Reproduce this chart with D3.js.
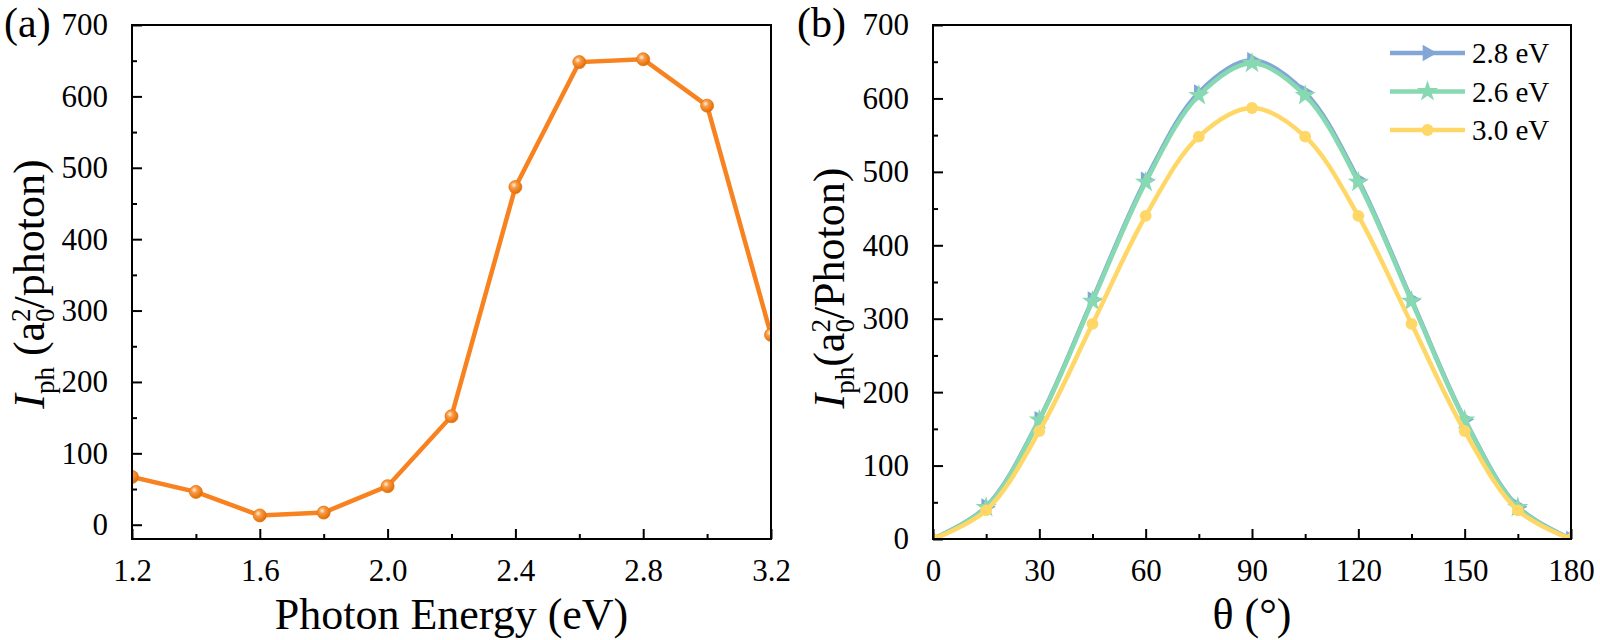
<!DOCTYPE html>
<html>
<head>
<meta charset="utf-8">
<script src="https://cdn.jsdelivr.net/npm/d3@7"></script>
<style>
html,body{margin:0;padding:0;background:#fff;}
svg{display:block;font-family:"Liberation Serif","Times New Roman",serif;}
</style>
</head>
<body>
<svg id="chart" width="1600" height="640"></svg>
<script>
// ---------- data ----------
const energies = [1.2, 1.4, 1.6, 1.8, 2.0, 2.2, 2.4, 2.6, 2.8, 3.0, 3.2];
const iphEnergy = [67, 46, 13, 17, 54, 152, 473, 648, 652, 587, 266];

const angles = [0, 15, 30, 45, 60, 75, 90, 105, 120, 135, 150, 165, 180];
const iph28 = [0, 44, 163, 326, 489, 608, 652, 608, 489, 326, 163, 44, 0];
const iph26 = [0, 43, 162, 324, 486, 604, 648, 604, 486, 324, 162, 43, 0];
const iph30 = [0, 39, 147, 293, 440, 548, 587, 548, 440, 293, 147, 39, 0];
const seriesNames = ["2.8 eV", "2.6 eV", "3.0 eV"];

const xTicksA = [1.2, 1.6, 2.0, 2.4, 2.8, 3.2];
const xMinorA = [1.4, 1.8, 2.2, 2.6, 3.0];
const yTicks = [0, 100, 200, 300, 400, 500, 600, 700];
const yMinor = [50, 150, 250, 350, 450, 550, 650];
const xTicksB = [0, 30, 60, 90, 120, 150, 180];
const xMinorB = [15, 45, 75, 105, 135, 165];

// ---------- layout ----------
const svg = d3.select("#chart");
const topY = 25, bottomY = 539;
const A = {left: 132, right: 771};
const B = {left: 933, right: 1571};
const tickFont = 31, titleFont = 44, subFont = 27;
const orange = "#f7821f";
const colors = ["#82a7d6", "#86d9b0", "#ffd766"];

const defs = svg.append("defs");
const grad = defs.append("radialGradient").attr("id", "sphere")
  .attr("cx", "0.38").attr("cy", "0.35").attr("r", "0.65");
grad.append("stop").attr("offset", "0").attr("stop-color", "#fff3e0");
grad.append("stop").attr("offset", "0.35").attr("stop-color", "#fa9a45");
grad.append("stop").attr("offset", "1").attr("stop-color", "#e06d05");

function clip(id, p) {
  defs.append("clipPath").attr("id", id).append("rect")
    .attr("x", p.left).attr("y", topY).attr("width", p.right - p.left).attr("height", bottomY - topY);
}
clip("clipA", A); clip("clipB", B);

function drawAxes(g, x, y, p, xMaj, xMin, xFmt) {
  g.append("rect").attr("x", p.left).attr("y", topY)
    .attr("width", p.right - p.left).attr("height", bottomY - topY)
    .attr("fill", "none").attr("stroke", "#000").attr("stroke-width", 2);
  const xa = g.append("g").attr("transform", `translate(0,${bottomY})`)
    .call(d3.axisBottom(x).tickValues(xMaj).tickSizeInner(-10).tickSizeOuter(0).tickPadding(20).tickFormat(xFmt));
  xa.select(".domain").remove();
  const xm = g.append("g").attr("transform", `translate(0,${bottomY})`)
    .call(d3.axisBottom(x).tickValues(xMin).tickSizeInner(-5).tickSizeOuter(0).tickFormat(""));
  xm.select(".domain").remove();
  const ya = g.append("g").attr("transform", `translate(${p.left},0)`)
    .call(d3.axisLeft(y).tickValues(yTicks).tickSizeInner(-10).tickSizeOuter(0).tickPadding(24));
  ya.select(".domain").remove();
  const ym = g.append("g").attr("transform", `translate(${p.left},0)`)
    .call(d3.axisLeft(y).tickValues(yMinor).tickSizeInner(-5).tickSizeOuter(0).tickFormat(""));
  ym.select(".domain").remove();
  g.selectAll(".tick line").attr("stroke", "#000").attr("stroke-width", 2);
  g.selectAll(".tick text").attr("font-family", "Liberation Serif").attr("font-size", tickFont).attr("fill", "#000");
}

function yTitle(g, cx, cy, word) {
  const t = g.append("text").attr("transform", `translate(${cx},${cy}) rotate(-90)`)
    .attr("text-anchor", "middle").attr("font-size", titleFont).attr("fill", "#000");
  t.append("tspan").attr("font-style", "italic").text("I");
  t.append("tspan").attr("font-size", subFont).attr("dy", 10).text("ph");
  t.append("tspan").attr("dy", -10).text(word === "photon" ? "\u00a0(a" : "(a");
  t.append("tspan").attr("font-size", subFont).attr("dy", 10).text("0");
  t.append("tspan").attr("font-size", subFont).attr("dx", -subFont / 2).attr("dy", -24).text("2");
  t.append("tspan").attr("dy", 14).text("/" + word + ")");
}

// ---------- panel (a) ----------
const gA = svg.append("g");
const xA = d3.scaleLinear().domain([1.2, 3.2]).range([A.left, A.right]);
const yA = d3.scaleLinear().domain([-20, 700]).range([bottomY, topY]);
const dataA = energies.map((e, i) => ({x: e, y: iphEnergy[i]}));
const plotA = gA.append("g").attr("clip-path", "url(#clipA)");
plotA.append("path").datum(dataA)
  .attr("d", d3.line().x(d => xA(d.x)).y(d => yA(d.y)))
  .attr("fill", "none").attr("stroke", orange).attr("stroke-width", 4.5);
plotA.selectAll("circle").data(dataA).join("circle")
  .attr("cx", d => xA(d.x)).attr("cy", d => yA(d.y)).attr("r", 6.5)
  .attr("fill", "url(#sphere)").attr("stroke", "#e8760f").attr("stroke-width", 0.8);
drawAxes(gA, xA, yA, A, xTicksA, xMinorA, d3.format(".1f"));
gA.append("text").attr("x", (A.left + A.right) / 2).attr("y", 629)
  .attr("text-anchor", "middle").attr("font-size", titleFont).text("Photon Energy (eV)");
yTitle(gA, 44, 284, "photon");
gA.append("text").attr("x", 4).attr("y", 37).attr("font-size", 42).text("(a)");

// ---------- panel (b) ----------
const gB = svg.append("g");
const xB = d3.scaleLinear().domain([0, 180]).range([B.left, B.right]);
const yB = d3.scaleLinear().domain([0, 700]).range([bottomY, topY]);
const seriesB = [iph28, iph26, iph30].map((vals, k) => ({
  name: seriesNames[k], color: colors[k],
  pts: angles.map((a, i) => ({x: a, y: vals[i]}))
}));
const symbols = [
  d3.symbol().type(d3.symbolTriangle).size(120),
  d3.symbol().type(d3.symbolStar).size(140),
  d3.symbol().type(d3.symbolCircle).size(110)
];
const rot = [90, 0, 0];
const plotB = gB.append("g").attr("clip-path", "url(#clipB)");
seriesB.forEach((s, k) => {
  const g = plotB.append("g");
  g.append("path").datum(s.pts)
    .attr("d", d3.line().curve(d3.curveCatmullRom).x(d => xB(d.x)).y(d => yB(d.y)))
    .attr("fill", "none").attr("stroke", s.color).attr("stroke-width", 4.5);
  g.selectAll("path.m").data(s.pts).join("path").attr("class", "m")
    .attr("d", symbols[k])
    .attr("transform", d => `translate(${xB(d.x)},${yB(d.y)}) rotate(${rot[k]})`)
    .attr("fill", s.color);
});
drawAxes(gB, xB, yB, B, xTicksB, xMinorB, d3.format("d"));
gB.append("text").attr("x", (B.left + B.right) / 2).attr("y", 629)
  .attr("text-anchor", "middle").attr("font-size", titleFont).text("\u03b8 (\u00b0)");
yTitle(gB, 844, 288, "Photon");
gB.append("text").attr("x", 797).attr("y", 37).attr("font-size", 42).text("(b)");

// legend
const leg = gB.append("g");
seriesB.forEach((s, k) => {
  const yy = 53 + k * 38.5;
  leg.append("line").attr("x1", 1390).attr("x2", 1465).attr("y1", yy).attr("y2", yy)
    .attr("stroke", s.color).attr("stroke-width", 4.5);
  leg.append("path").attr("d", symbols[k])
    .attr("transform", `translate(1427.5,${yy}) rotate(${rot[k]})`).attr("fill", s.color);
  leg.append("text").attr("x", 1472).attr("y", yy + 10).attr("font-size", 29).text(s.name);
});
</script>
</body>
</html>
